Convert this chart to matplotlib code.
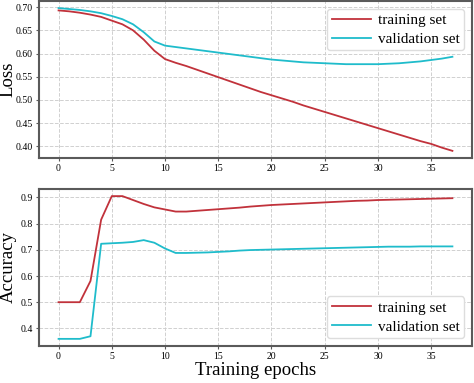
import matplotlib
matplotlib.use("Agg")
import matplotlib.pyplot as plt
import numpy as np

plt.rcParams['font.family'] = ['Liberation Serif', 'DejaVu Serif']

epochs = list(range(38))

# loss curves
train_loss = [0.693, 0.691, 0.688, 0.684, 0.679, 0.671, 0.663, 0.650, 0.630, 0.606, 0.588,
              0.580, 0.573, 0.565, 0.557, 0.549, 0.541, 0.533, 0.525, 0.517, 0.510,
              0.503, 0.496, 0.488, 0.481, 0.474, 0.467, 0.460, 0.453, 0.446, 0.439,
              0.432, 0.425, 0.418, 0.411, 0.405, 0.397, 0.390]
val_loss = [0.698, 0.696, 0.694, 0.691, 0.687, 0.681, 0.674, 0.663, 0.646, 0.626, 0.617,
            0.614, 0.611, 0.608, 0.605, 0.602, 0.599, 0.596, 0.593, 0.590, 0.587,
            0.585, 0.583, 0.581, 0.580, 0.579, 0.578, 0.577, 0.577, 0.577, 0.577,
            0.578, 0.579, 0.581, 0.583, 0.586, 0.589, 0.593]

# accuracy curves
train_acc = [0.500, 0.500, 0.500, 0.581, 0.815, 0.905, 0.905, 0.890, 0.875, 0.862, 0.854,
             0.846, 0.846, 0.849, 0.852, 0.855, 0.858, 0.861, 0.865, 0.868, 0.871,
             0.873, 0.875, 0.877, 0.879, 0.881, 0.883, 0.885, 0.887, 0.888, 0.890,
             0.891, 0.892, 0.893, 0.894, 0.895, 0.896, 0.897]
val_acc = [0.360, 0.360, 0.360, 0.370, 0.723, 0.725, 0.727, 0.730, 0.737, 0.727, 0.705,
           0.688, 0.688, 0.689, 0.690, 0.692, 0.694, 0.697, 0.699, 0.700, 0.701,
           0.702, 0.703, 0.704, 0.705, 0.706, 0.707, 0.708, 0.709, 0.710, 0.711,
           0.712, 0.712, 0.712, 0.713, 0.713, 0.713, 0.713]

red = '#c1323b'
cyan = '#1fbccb'

fig = plt.figure(figsize=(4.74, 3.83), dpi=100)
ax1 = fig.add_axes([0.082, 0.5875, 0.914, 0.41])
ax2 = fig.add_axes([0.082, 0.0966, 0.914, 0.41])

for ax in (ax1, ax2):
    ax.grid(True, linestyle='--', color='#d0d0d0', linewidth=0.7)
    ax.set_axisbelow(True)
    for s in ax.spines.values():
        s.set_color('#5a5a5a')
        s.set_linewidth(1.5)
    ax.tick_params(labelsize=7, length=2.5, width=0.8, color='#5a5a5a', pad=2)
    ax.set_xticks([0, 5, 10, 15, 20, 25, 30, 35])
    ax.yaxis.set_label_coords(-0.052, 0.5)

leg_kw = dict(fontsize=11, framealpha=1, edgecolor='#dddddd', handlelength=2.6,
              borderpad=0.3, labelspacing=0.35, handletextpad=0.45)

ax1.plot(epochs, train_loss, color=red, lw=1.3, label='training set')
ax1.plot(epochs, val_loss, color=cyan, lw=1.3, label='validation set')
ax1.set_ylabel('Loss', fontsize=13.5)
ax1.legend(loc='upper right', **leg_kw)

ax2.plot(epochs, train_acc, color=red, lw=1.3, label='training set')
ax2.plot(epochs, val_acc, color=cyan, lw=1.3, label='validation set')
ax2.set_ylabel('Accuracy', fontsize=13.5)
ax2.set_xlabel('Training epochs', fontsize=13.5)
ax2.xaxis.set_label_coords(0.5, -0.10)
ax2.legend(loc='lower right', **leg_kw)

fig.savefig('out.png', dpi=100)
